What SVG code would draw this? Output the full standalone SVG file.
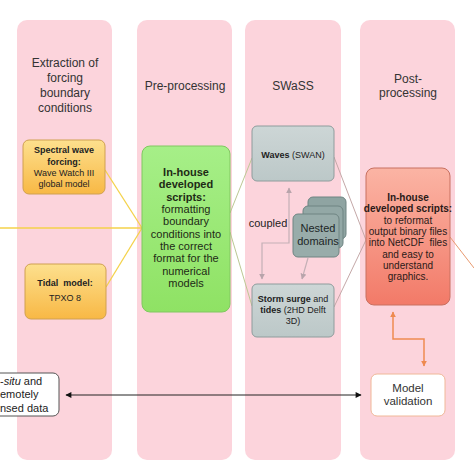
<svg xmlns="http://www.w3.org/2000/svg" width="474" height="474" viewBox="0 0 474 474">
<defs>
<linearGradient id="gOrange" x1="0" y1="0" x2="0" y2="1"><stop offset="0" stop-color="#fde08e"/><stop offset="1" stop-color="#f8b845"/></linearGradient>
<linearGradient id="gGreen" x1="0" y1="0" x2="0" y2="1"><stop offset="0" stop-color="#a6ef88"/><stop offset="1" stop-color="#8fe264"/></linearGradient>
<linearGradient id="gGrey" x1="0" y1="0" x2="0" y2="1"><stop offset="0" stop-color="#cdd6d6"/><stop offset="1" stop-color="#bcc8c8"/></linearGradient>
<linearGradient id="gRed" x1="0" y1="0" x2="0" y2="1"><stop offset="0" stop-color="#fbb4a4"/><stop offset="1" stop-color="#f27a68"/></linearGradient>
<marker id="aGrey" viewBox="0 0 10 10" refX="9" refY="5" markerWidth="5" markerHeight="5" orient="auto-start-reverse"><path d="M0,0 L10,5 L0,10 z" fill="#b8a4ab"/></marker>
<marker id="aOrange" viewBox="0 0 10 10" refX="9" refY="5" markerWidth="4" markerHeight="4" orient="auto-start-reverse"><path d="M0,0 L10,5 L0,10 z" fill="#ee8a50"/></marker>
<marker id="aBlack" viewBox="0 0 10 10" refX="9" refY="5" markerWidth="7" markerHeight="6" orient="auto-start-reverse"><path d="M0,0 L10,5 L0,10 z" fill="#111"/></marker>
</defs>
<style>
.col{fill:#fcd4dc}
.title{font-family:"Liberation Sans",Arial,sans-serif;font-size:12px;fill:#333;text-anchor:middle}
.t9{font-family:"Liberation Sans",Arial,sans-serif;font-size:9px;fill:#222;text-anchor:middle}
.t10{font-family:"Liberation Sans",Arial,sans-serif;font-size:10px;fill:#2a1a18;text-anchor:middle}
.t11{font-family:"Liberation Sans",Arial,sans-serif;font-size:11px;fill:#1e2a16;text-anchor:middle}
.b{font-weight:bold}
.yel{stroke:#f4d24a;stroke-width:1.3;fill:none}
</style>
<rect width="474" height="474" fill="#ffffff"/>
<g id="columns">
<rect class="col" x="17" y="20" width="95" height="440" rx="10"/>
<rect class="col" x="137" y="20" width="95" height="440" rx="10"/>
<rect class="col" x="245" y="20" width="96" height="440" rx="10"/>
<rect class="col" x="360" y="20" width="95" height="440" rx="10"/>
<text class="title" x="65" y="67">Extraction of</text>
<text class="title" x="65" y="82">forcing</text>
<text class="title" x="65" y="97">boundary</text>
<text class="title" x="65" y="112">conditions</text>
<text class="title" x="185" y="90">Pre-processing</text>
<text class="title" x="293" y="90">SWaSS</text>
<text class="title" x="408" y="83">Post-</text>
<text class="title" x="408" y="97">processing</text>
</g>
<g id="connectors">
<line class="yel" x1="0" y1="228" x2="142" y2="228"/>
<line class="yel" x1="105" y1="170" x2="142" y2="228"/>
<line class="yel" x1="106" y1="287" x2="142" y2="228"/>
<line x1="230" y1="213" x2="252" y2="158" stroke="#bcc894" stroke-width="1"/>
<line x1="230" y1="232" x2="252" y2="306" stroke="#bcc894" stroke-width="1"/>
<line x1="334" y1="157" x2="366" y2="240" stroke="#c4a8a8" stroke-width="1"/>
<line x1="334" y1="307" x2="366" y2="240" stroke="#c4a8a8" stroke-width="1"/>
<line x1="450" y1="237" x2="474" y2="268" stroke="#e89a70" stroke-width="1"/>
<path d="M289,188 L289,243 L262,243 L262,279" fill="none" stroke="#c4b0b6" stroke-width="1.2" marker-start="url(#aGrey)" marker-end="url(#aGrey)"/>
<line x1="308" y1="258" x2="302" y2="279" stroke="#c4b0b6" stroke-width="1.2" marker-end="url(#aGrey)"/>
<path d="M393,312 L393,339 L424,339 L424,366" fill="none" stroke="#ee8a50" stroke-width="1.5" marker-start="url(#aOrange)" marker-end="url(#aOrange)"/>
<line x1="66" y1="395" x2="361" y2="395" stroke="#222" stroke-width="1" marker-start="url(#aBlack)" marker-end="url(#aBlack)"/>
</g>
<g id="spectral">
<rect x="23" y="140" width="82" height="54" rx="6" fill="url(#gOrange)" stroke="#d0a050" stroke-width="1"/>
<text class="t9 b" x="64" y="153">Spectral wave</text>
<text class="t9 b" x="64" y="164.5">forcing:</text>
<text class="t9" x="64" y="176">Wave Watch III</text>
<text class="t9" x="64" y="187">global model</text>
</g>
<g id="tidal">
<rect x="25" y="264" width="81" height="55" rx="6" fill="url(#gOrange)" stroke="#d0a050" stroke-width="1"/>
<text class="t9 b" x="65" y="286" xml:space="preserve">Tidal  model:</text>
<text class="t9" x="65" y="301">TPXO 8</text>
</g>
<g id="insitu">
<rect x="-10" y="373" width="69" height="43" rx="6" fill="#ffffff" stroke="#555" stroke-width="1"/>
<text x="0" y="385" style="font-family:'Liberation Sans',Arial,sans-serif;font-size:11px;fill:#222">-<tspan font-style="italic">situ</tspan> and</text>
<text x="0" y="398" style="font-family:'Liberation Sans',Arial,sans-serif;font-size:11px;fill:#222">emotely</text>
<text x="0" y="412" style="font-family:'Liberation Sans',Arial,sans-serif;font-size:11px;fill:#222">nsed data</text>
</g>
<g id="preproc">
<rect x="142" y="146" width="88" height="166" rx="8" fill="url(#gGreen)" stroke="#80c860" stroke-width="1"/>
<text class="t11 b" x="186" y="176">In-house</text>
<text class="t11 b" x="186" y="188">developed</text>
<text class="t11 b" x="186" y="200.5">scripts:</text>
<text class="t11" x="186" y="213">formatting</text>
<text class="t11" x="186" y="225">boundary</text>
<text class="t11" x="186" y="237.5">conditions into</text>
<text class="t11" x="186" y="250">the correct</text>
<text class="t11" x="186" y="262">format for the</text>
<text class="t11" x="186" y="275">numerical</text>
<text class="t11" x="186" y="287">models</text>
</g>
<g id="waves">
<rect x="252" y="126" width="82" height="55" rx="5" fill="url(#gGrey)" stroke="#8e9c9c" stroke-width="1"/>
<text class="t9" x="293" y="158"><tspan class="b">Waves</tspan> (SWAN)</text>
</g>
<g id="nested">
<rect x="308" y="197" width="38" height="42" rx="5" fill="#8fa4a2" stroke="#6e8482" stroke-width="1"/>
<rect x="303" y="206" width="40" height="42" rx="5" fill="#93a8a6" stroke="#6e8482" stroke-width="1"/>
<rect x="293" y="214" width="46" height="43" rx="5" fill="#98acaa" stroke="#6e8482" stroke-width="1"/>
<text class="t11" x="318" y="232" style="fill:#1c2626">Nested</text>
<text class="t11" x="318" y="245" style="fill:#1c2626">domains</text>
</g>
<g id="coupled">
<text class="t11" x="268" y="227" style="fill:#222">coupled</text>
</g>
<g id="storm">
<rect x="252" y="284" width="82" height="53" rx="5" fill="url(#gGrey)" stroke="#8e9c9c" stroke-width="1"/>
<text class="t9" x="293" y="302"><tspan class="b">Storm surge</tspan> and</text>
<text class="t9" x="293" y="313"><tspan class="b">tides</tspan> (2HD Delft</text>
<text class="t9" x="293" y="324">3D)</text>
</g>
<g id="postproc">
<rect x="366" y="168" width="84" height="137" rx="8" fill="url(#gRed)" stroke="#c87060" stroke-width="1"/>
<text class="t10 b" x="408" y="200.5">In-house</text>
<text class="t10 b" x="408" y="212">developed scripts:</text>
<text class="t10" x="408" y="223.5">to reformat</text>
<text class="t10" x="408" y="234.5">output binary files</text>
<text class="t10" x="408" y="246" xml:space="preserve">into NetCDF  files</text>
<text class="t10" x="408" y="257.5">and easy to</text>
<text class="t10" x="408" y="268.5">understand</text>
<text class="t10" x="408" y="280">graphics.</text>
</g>
<g id="validation">
<rect x="371" y="374" width="74" height="42" rx="6" fill="#ffffff" stroke="#f0b898" stroke-width="1"/>
<text class="t11" x="408" y="392" style="font-size:11.5px;fill:#333">Model</text>
<text class="t11" x="408" y="405" style="font-size:11.5px;fill:#333">validation</text>
</g>
</svg>
